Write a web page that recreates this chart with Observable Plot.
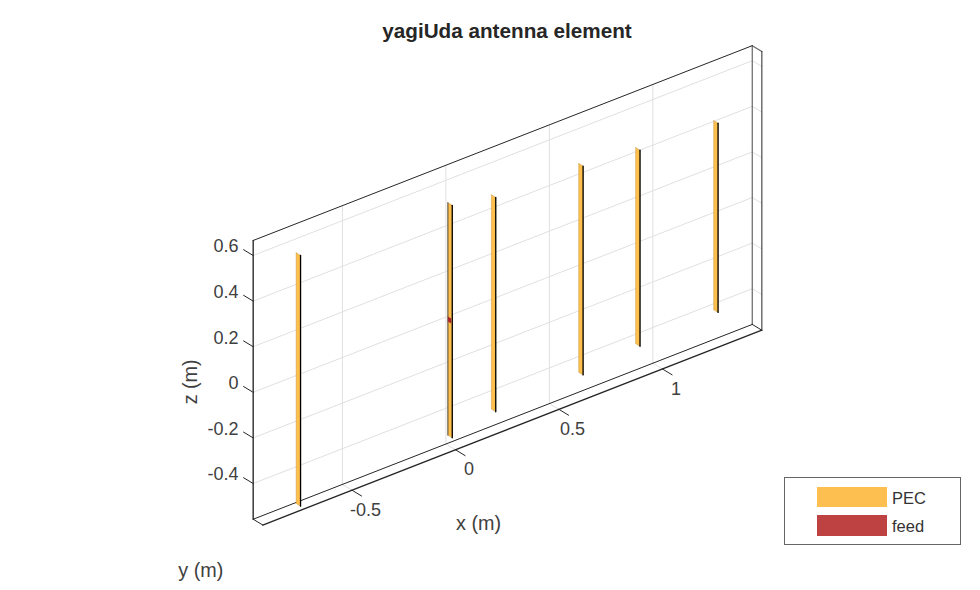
<!DOCTYPE html>
<html>
<head>
<meta charset="utf-8">
<script src="https://cdn.jsdelivr.net/npm/d3@7"></script>
<script src="https://cdn.jsdelivr.net/npm/@observablehq/plot@0.6"></script>
<style>
  html, body { margin: 0; padding: 0; background: #fff; }
  body { width: 980px; height: 590px; position: relative; overflow: hidden; font-family: "Liberation Sans", Arial, sans-serif; }
  #title { position: absolute; left: 0; width: 1014px; top: 19px; text-align: center; font-size: 20.7px; line-height: 24px; font-weight: bold; color: #262626; }
  #legend { position: absolute; left: 784px; top: 477px; width: 175px; height: 66px; border: 1px solid #666; background: #fff; box-sizing: content-box; }
  .sw { position: absolute; left: 32px; width: 70px; }
  .lb { position: absolute; left: 107px; font-size: 16.5px; line-height: 20px; color: #333; }
  svg { display: block; }
</style>
</head>
<body>
<div id="chart"></div>
<div id="title">yagiUda antenna element</div>
<div id="legend"></div>
<script>
// values, in metres
const elementX    = [-0.736, -0.003, 0.207, 0.629, 0.904, 1.281];
const elementHalf = [0.55, 0.51, 0.47, 0.458, 0.43, 0.415];
const stripHalfY  = 0.0275;
const feedHalfZ   = 0.011;
const xTicks = [-0.5, 0, 0.5, 1];
const zTicks = [-0.4, -0.2, 0, 0.2, 0.4, 0.6];
const xLimits = [-0.931, 1.48];
const yLimits = [0.06, -0.06];   // back, front
const zLimits = [-0.5566, 0.666];
const legendNames  = ["PEC", "feed"];
const legendColors = ["#fdbf4f", "#bf4242"];

// oblique view of the model: metres to plane coordinates
const depth = y => (yLimits[0] - y) / (yLimits[0] - yLimits[1]);
const U = (x, y) => x + 0.04638 * depth(y);
const V = (x, y, z) => z + 0.3544 * x - 0.02544 * depth(y);
const P = (x, y, z, extra = {}) => ({u: U(x, y), v: V(x, y, z), ...extra});
const [xa, xb] = xLimits, [yb, yf] = yLimits, [za, zb] = zLimits;
const yOut = yf + (yf - yb);     // end of an x tick
const yIn  = yb + (yb - yf);     // end of a z tick

// grid
const grid = [];
zTicks.forEach((z, i) => grid.push(P(xa, yb, z, {id: "z" + i}), P(xb, yb, z, {id: "z" + i}), P(xb, yf, z, {id: "z" + i})));
xTicks.forEach((x, i) => grid.push(P(x, yb, zb, {id: "x" + i}), P(x, yb, za, {id: "x" + i}), P(x, yf, za, {id: "x" + i})));

// box edges
const edge = (id, a, b) => [P(...a, {id}), P(...b, {id})];
const darkEdges = [
  ...edge("top", [xa, yb, zb], [xb, yb, zb]),
  ...edge("back", [xa, yb, za], [xb, yb, za]),
  ...edge("side", [xa, yb, za], [xa, yf, za]),
  ...edge("right", [xb, yf, za], [xb, yf, zb]),
  ...edge("rb", [xb, yb, za], [xb, yf, za])
];
const heavyEdges = [
  ...edge("left", [xa, yb, za], [xa, yb, zb]),
  ...edge("front", [xa, yf, za], [xb, yf, za])
];
const softEdges = [
  ...edge("rv", [xb, yb, za], [xb, yb, zb]),
  ...edge("rt", [xb, yb, zb], [xb, yf, zb])
];

// ticks
const ticks = [
  ...xTicks.flatMap((x, i) => edge("tx" + i, [x, yf, za], [x, yOut, za])),
  ...zTicks.flatMap((z, i) => edge("tz" + i, [xa, yb, z], [xa, yIn, z]))
];

// conductor strips
const strips = elementX.flatMap((x, i) => {
  const h = elementHalf[i], id = "s" + i;
  return [
    P(x, stripHalfY, h, {id}), P(x, -stripHalfY, h, {id}),
    P(x, -stripHalfY, -h, {id}), P(x, stripHalfY, -h, {id}), P(x, stripHalfY, h, {id})
  ];
});
const stripFront = elementX.flatMap((x, i) => edge("f" + i, [x, -stripHalfY, elementHalf[i]], [x, -stripHalfY, -elementHalf[i]]));
const dipoleBack = edge("db", [elementX[1], stripHalfY, elementHalf[1]], [elementX[1], stripHalfY, -elementHalf[1]]);
const feed = [
  P(elementX[1], stripHalfY, feedHalfZ), P(elementX[1], -stripHalfY / 2, feedHalfZ),
  P(elementX[1], -stripHalfY / 2, -feedHalfZ), P(elementX[1], stripHalfY, -feedHalfZ)
];

// labels
const xLabels = xTicks.map(x => ({...P(x, yOut, za), t: String(x)}));
const zLabels = zTicks.map(z => ({...P(xa, yIn, z), t: String(z)}));

const txt = {fontFamily: "Liberation Sans, Arial, sans-serif", fontSize: 18, fill: "#404040"};
const ttl = {...txt, fontSize: 19.8};
const line = (d, stroke, strokeWidth) => Plot.line(d, {x: "u", y: "v", z: "id", stroke, strokeWidth, curve: "linear"});

const chart = Plot.plot({
  width: 980, height: 590,
  marginTop: 0, marginRight: 0, marginBottom: 0, marginLeft: 0,
  x: {domain: [-445.4 / 207, (980 - 445.4) / 207], range: [0, 980], axis: null},
  y: {domain: [316.6 / 228, (316.6 - 590) / 228], range: [0, 590], axis: null},
  style: {background: "#fff"},
  marks: [
    line(grid, "#e0e0e0", 1),
    line(softEdges, "#666", 1.2),
    line(darkEdges, "#262626", 1),
    line(heavyEdges, "#262626", 1.35),
    line(ticks, "#262626", 1),
    Plot.line(strips, {x: "u", y: "v", z: "id", fill: "#ffbf4d", stroke: "#b98a30", strokeWidth: 0.4}),
    line(dipoleBack, "#333", 0.8),
    line(stripFront, "#000", 1.3),
    Plot.line(feed, {x: "u", y: "v", fill: "#a8262c"}),
    Plot.text(xLabels, {x: "u", y: "v", text: "t", dx: 4, dy: 14, ...txt}),
    Plot.text(zLabels, {x: "u", y: "v", text: "t", dx: -5, dy: -3, textAnchor: "end", ...txt}),
    Plot.text([P(0.06, yOut, za - 0.02)], {x: "u", y: "v", text: () => "x (m)", dx: 1, dy: 68, ...ttl}),
    Plot.text([P(xa, yb, 0.046)], {x: "u", y: "v", text: () => "z (m)", dx: -63, rotate: -90, ...ttl}),
    Plot.text([P(xa, yf, za)], {x: "u", y: "v", text: () => "y (m)", dx: -62, dy: 46, ...ttl})
  ]
});
document.getElementById("chart").append(chart);

const legend = document.getElementById("legend");
legendNames.forEach((name, i) => {
  const s = document.createElement("div");
  s.className = "sw";
  s.style.top = (i === 0 ? 9 : 37) + "px";
  s.style.height = (i === 0 ? 20 : 21) + "px";
  s.style.background = legendColors[i];
  const l = document.createElement("div");
  l.className = "lb";
  l.style.top = (i === 0 ? 10 : 38) + "px";
  l.textContent = name;
  legend.append(s, l);
});
</script>
</body>
</html>
